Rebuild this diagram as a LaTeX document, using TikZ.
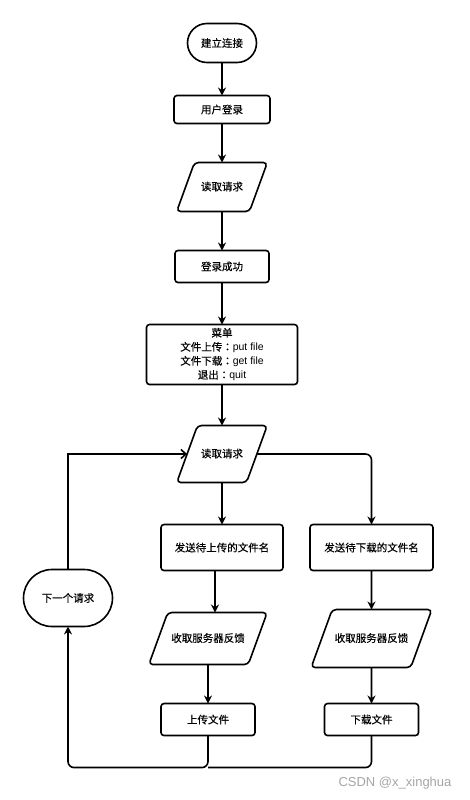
\documentclass[tikz,border=0pt]{standalone}
\usepackage{fontspec}
\newfontfamily\cjk[FakeBold=0.3]{Noto Sans CJK SC}
\newfontfamily\cjkbold[FakeBold=1.2]{Noto Sans CJK SC}
\newfontfamily\cjktc[FakeBold=0.3]{Noto Sans CJK TC}
\newfontfamily\latin{Liberation Sans}
\usetikzlibrary{arrows.meta, positioning, shapes.geometric, shapes.misc}
\definecolor{markgray}{RGB}{165,165,165}

\tikzset{
    base/.style    = {draw, line width=1.6pt, outer sep=0pt, font=\cjk\fontsize{10.5}{14}\selectfont, align=center, inner sep=2pt},
    process/.style = {base, rectangle, rounded corners=3pt},
    inout/.style   = {base, trapezium, trapezium left angle=70, trapezium right angle=110,
                      text height=8.5pt, text depth=1.5pt, rounded corners=4pt},
    term/.style    = {base, rounded rectangle},
    flow/.style    = {line width=1.6pt, -{Stealth[length=8pt, width=8pt]}},
}
\newcommand{\wcolon}{{\cjktc ：}}

\begin{document}
\begin{tikzpicture}[x=1pt, y=-1pt]
    \useasboundingbox (0,0) rectangle (470,800);
    % 主流程
    \node[term, minimum width=73pt, minimum height=39pt]                  (Connect)  at (222,43) {建立连接};
    \node[process, minimum width=96pt, minimum height=28pt, below=33pt of Connect] (Login)  {用户登录};
    \node[inout, inner xsep=6.5pt, inner ysep=19.5pt, below=39pt of Login]         (Read1)  {读取请求};
    \node[process, minimum width=94pt, minimum height=32pt, below=39pt of Read1]   (LoginOK) {登录成功};
    \node[process, minimum width=151pt, minimum height=60pt, below=42pt of LoginOK] (Menu)
        {{\cjkbold 菜单}\\文件上传\wcolon{\latin put file}\\文件下载\wcolon{\latin get file}\\退出\wcolon{\latin quit}};
    \node[inout, inner xsep=3.5pt, inner ysep=23.5pt, below=41pt of Menu]          (Read2)  {读取请求};

    % 上传 / 下载 两条分支
    \node[process, minimum width=122pt, minimum height=46pt, below=42pt of Read2]  (SendUp)   {发送待上传的文件名};
    \node[process, minimum width=123pt, minimum height=46pt, right=27pt of SendUp] (SendDown) {发送待下载的文件名};
    \node[inout, inner xsep=3.5pt, inner ysep=21pt, below=42pt of SendUp, xshift=-14pt] (RecvUp)   {收取服务器反馈};
    \node[inout, inner xsep=2.5pt, inner ysep=24pt, below=39pt of SendDown]        (RecvDown) {收取服务器反馈};
    \node[process, minimum width=94pt, minimum height=32pt, below=39pt of RecvUp]  (UpFile)   {上传文件};
    \node[process, minimum width=94pt, minimum height=32pt, below=36pt of RecvDown] (DownFile) {下载文件};

    \node[term, minimum width=93pt, minimum height=57pt] (Next) at (68,598) {下一个请求};
    \coordinate (Bottom) at ([yshift=-32pt]UpFile.south -| Next.south);

    \draw[flow] (Connect) -- (Login);
    \draw[flow] (Login) -- (Read1);
    \draw[flow] (Read1) -- (LoginOK);
    \draw[flow] (LoginOK) -- (Menu);
    \draw[flow] (Menu) -- (Read2);
    \draw[flow] (Read2.south) -- (Read2.south |- SendUp.north);
    \draw[flow, rounded corners=6pt] (Read2.east) -| (SendDown.north);
    \draw[flow] ([xshift=-7pt]SendUp.south) -- ([xshift=-7pt]SendUp.south |- RecvUp.north);
    \draw[flow] (RecvUp) -- (UpFile);
    \draw[flow] (SendDown) -- (RecvDown);
    \draw[flow] (RecvDown) -- (DownFile);

    % 返回循环
    \draw[flow, rounded corners=6pt] (UpFile.south) |- (Bottom) -- (Next.south);
    \draw[line width=1.6pt, rounded corners=6pt] (DownFile.south) |- (UpFile.south |- Bottom);
    \draw[line width=1.6pt, -{Straight Barb[length=5pt, width=9pt]}] (Next.north) |- (Read2.west);

    \node[font=\latin\fontsize{13}{15}\selectfont, text=markgray] (Mark) at (395,783) {CSDN @x\_xinghua};
\end{tikzpicture}
\end{document}
